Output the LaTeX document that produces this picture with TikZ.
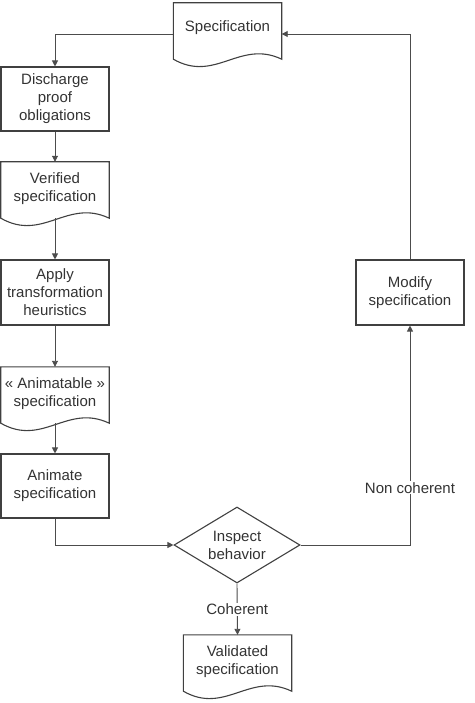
\documentclass[tikz,border=0pt]{standalone}
\usepackage{fontspec}
\setmainfont{Liberation Sans}
\usetikzlibrary{arrows.meta,shapes.geometric}

\begin{document}
\begin{tikzpicture}[x=1pt,y=-1pt,
		every node/.style={font=\fontsize{15}{18}\selectfont, text=black!80, align=center, inner sep=2pt},
		process/.style={draw=black!75, line width=1.1pt, minimum width=108pt, minimum height=64pt},
		doc/.style={minimum width=108pt, minimum height=56pt, text depth=6pt},
		decision/.style={diamond, draw=black!75, line width=1.1pt, minimum width=126pt, minimum height=76pt, aspect=1.66, inner sep=0pt},
		outline/.style={draw=black!75, line width=1.1pt},
		flow/.style={draw=black!70, line width=0.9pt, -{Triangle[length=6pt,width=6pt]}},
		cond/.style={fill=white, inner sep=1pt}]
		
		\useasboundingbox (0,0) rectangle (474,703);
		
		\node[doc, text depth=10pt] (spec) at (227.5,31) {Specification};
		\node[process] (dis) at (55,99) {Discharge\\proof\\obligations};
		\node[doc] (verif) at (55,190) {Verified\\specification};
		\node[process, minimum height=65pt] (apply) at (55,292.5) {Apply\\transformation\\heuristics};
		\node[doc] (anim) at (55,395) {« Animatable »\\specification};
		\node[process] (animate) at (55,486) {Animate\\specification};
		\node[decision] (insp) at (237,545) {Inspect\\behavior};
		\node[doc] (valid) at (237.5,663) {Validated\\specification};
		\node[process, minimum height=65pt] (mod) at (410,292.5) {Modify\\specification};
		
		% document outlines with wavy bottom
		\foreach \d in {spec,verif,anim,valid}
		\draw[outline] (\d.south west) -- (\d.north west) -- (\d.north east) -- (\d.south east)
		.. controls ([shift={(-42,-20)}]\d.south east) and ([shift={(42,24)}]\d.south west) .. (\d.south west) -- cycle;
		
		\draw[flow] ([yshift=-3pt]spec.west) -| (dis.north);
		\draw[flow] (dis.south) -- (verif.north);
		\draw[flow] (verif.south) -- (apply.north);
		\draw[flow] (apply.south) -- (anim.north);
		\draw[flow] (anim.south) -- (animate.north);
		\draw[flow] (animate.south) |- (insp.west);
		\draw[flow] (insp.south) -- node[cond] {Coherent} (valid.north);
		\draw[flow] (insp.east) -| node[cond, pos=0.63] {Non coherent} (mod.south);
		\draw[flow] (mod.north) |- ([yshift=-3pt]spec.east);
		
\end{tikzpicture}
\end{document}
